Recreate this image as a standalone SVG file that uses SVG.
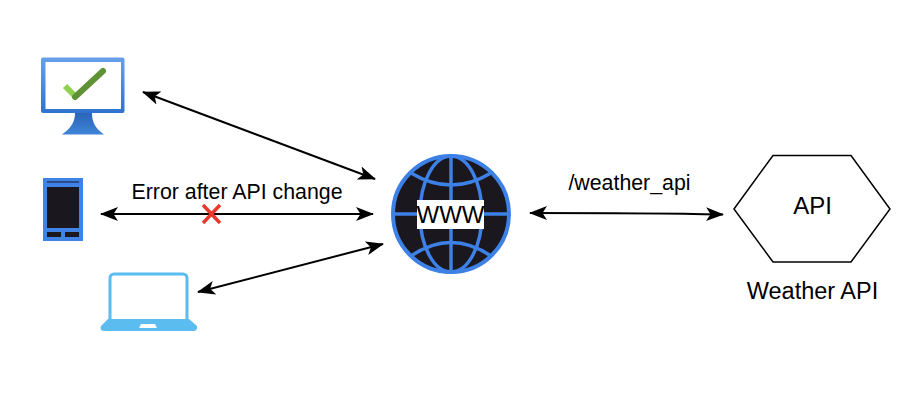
<svg xmlns="http://www.w3.org/2000/svg" width="909" height="400" viewBox="0 0 909 400">
<style>
text{font-family:"Liberation Sans",Arial,sans-serif;fill:#000;text-anchor:middle}
.conn{fill:none;stroke:#000;stroke-width:2;marker-start:url(#ah);marker-end:url(#ah)}
.gl{fill:none;stroke:#3d80e6;stroke-width:3.500}
</style>
<defs>
<marker id="ah" viewBox="0 0 18 16" refX="17" refY="8" markerWidth="18" markerHeight="16" markerUnits="userSpaceOnUse" orient="auto-start-reverse"><path d="M0 1L18 8L0 15L4.500 8Z" fill="#000"/></marker>
<linearGradient id="scr" x1="0" y1="0" x2="0" y2="1"><stop offset="0" stop-color="#67a0ea"/><stop offset="1" stop-color="#2f73cf"/></linearGradient>
<linearGradient id="st" x1="0" y1="0" x2="0" y2="1"><stop offset="0" stop-color="#2a65b8"/><stop offset="1" stop-color="#3f84d8"/></linearGradient>
</defs>
<rect width="909" height="400" fill="#fff"/>
<g id="connectors">
<path class="conn" d="M143 92L375 179"/>
<path class="conn" d="M101 214L373 214"/>
<path class="conn" d="M198 292L383 244"/>
<path class="conn" d="M530 213C600 213 650 213 723 214.500"/>
</g>
<g id="monitor">
<path d="M75 113H92C92 122 95 128 104 134.500H62C71 128 75 122 75 113Z" fill="url(#st)"/>
<rect x="41" y="57.500" width="83.500" height="55.500" rx="2" fill="url(#scr)"/>
<rect x="45.500" y="62" width="75.500" height="47" fill="#fff"/>
<path d="M65 86L75 96" stroke="#92d050" stroke-width="6" fill="none"/>
<path d="M75 97L103 71" stroke="#5f9236" stroke-width="6" fill="none" stroke-linecap="round"/>
</g>
<g id="tablet">
<rect x="43" y="178" width="40" height="63" fill="#3f83e8"/>
<rect x="47" y="181.500" width="32" height="1" fill="#1a171e"/>
<rect x="47" y="187" width="32" height="41" fill="#1a171e"/>
<rect x="47" y="232" width="14" height="5" fill="#1a171e"/>
<rect x="65" y="232" width="14" height="5" fill="#1a171e"/>
</g>
<g id="laptop">
<rect x="110" y="274" width="77" height="49" rx="4" fill="none" stroke="#5bbcf0" stroke-width="3"/>
<path d="M108 319H189L197 326Q198 331 193 331H105Q99 331 101 326Z" fill="#5bbcf0"/>
<path d="M141 324H155L157 328H139Z" fill="#fff"/>
</g>
<g id="www">
<circle cx="451" cy="214" r="58" fill="#1a171e" stroke="#3d80e6" stroke-width="4"/>
<path class="gl" d="M451 156V272M393 214H509"/>
<ellipse class="gl" cx="451" cy="214" rx="31" ry="58"/>
<path class="gl" d="M411 173Q451 197 491 173M411 256Q451 229 491 256"/>
<rect x="417" y="200" width="67" height="29" fill="#fff"/>
<text x="450.500" y="223" font-size="24">WWW</text>
</g>
<g id="api">
<path d="M734 209L773 155.500H851L890 209L851 262H773Z" fill="#fff" stroke="#000" stroke-width="1.500"/>
<text x="812.500" y="214" font-size="24">API</text>
<text x="812.500" y="299" font-size="23.500">Weather API</text>
</g>
<g id="labels">
<text x="237" y="199" font-size="21.330">Error after API change</text>
<text x="629.500" y="190" font-size="21.330">/weather_api</text>
<path d="M203 205L220 223M220 205L203 223" stroke="#e8392d" stroke-width="3.500" fill="none"/>
</g>
</svg>
